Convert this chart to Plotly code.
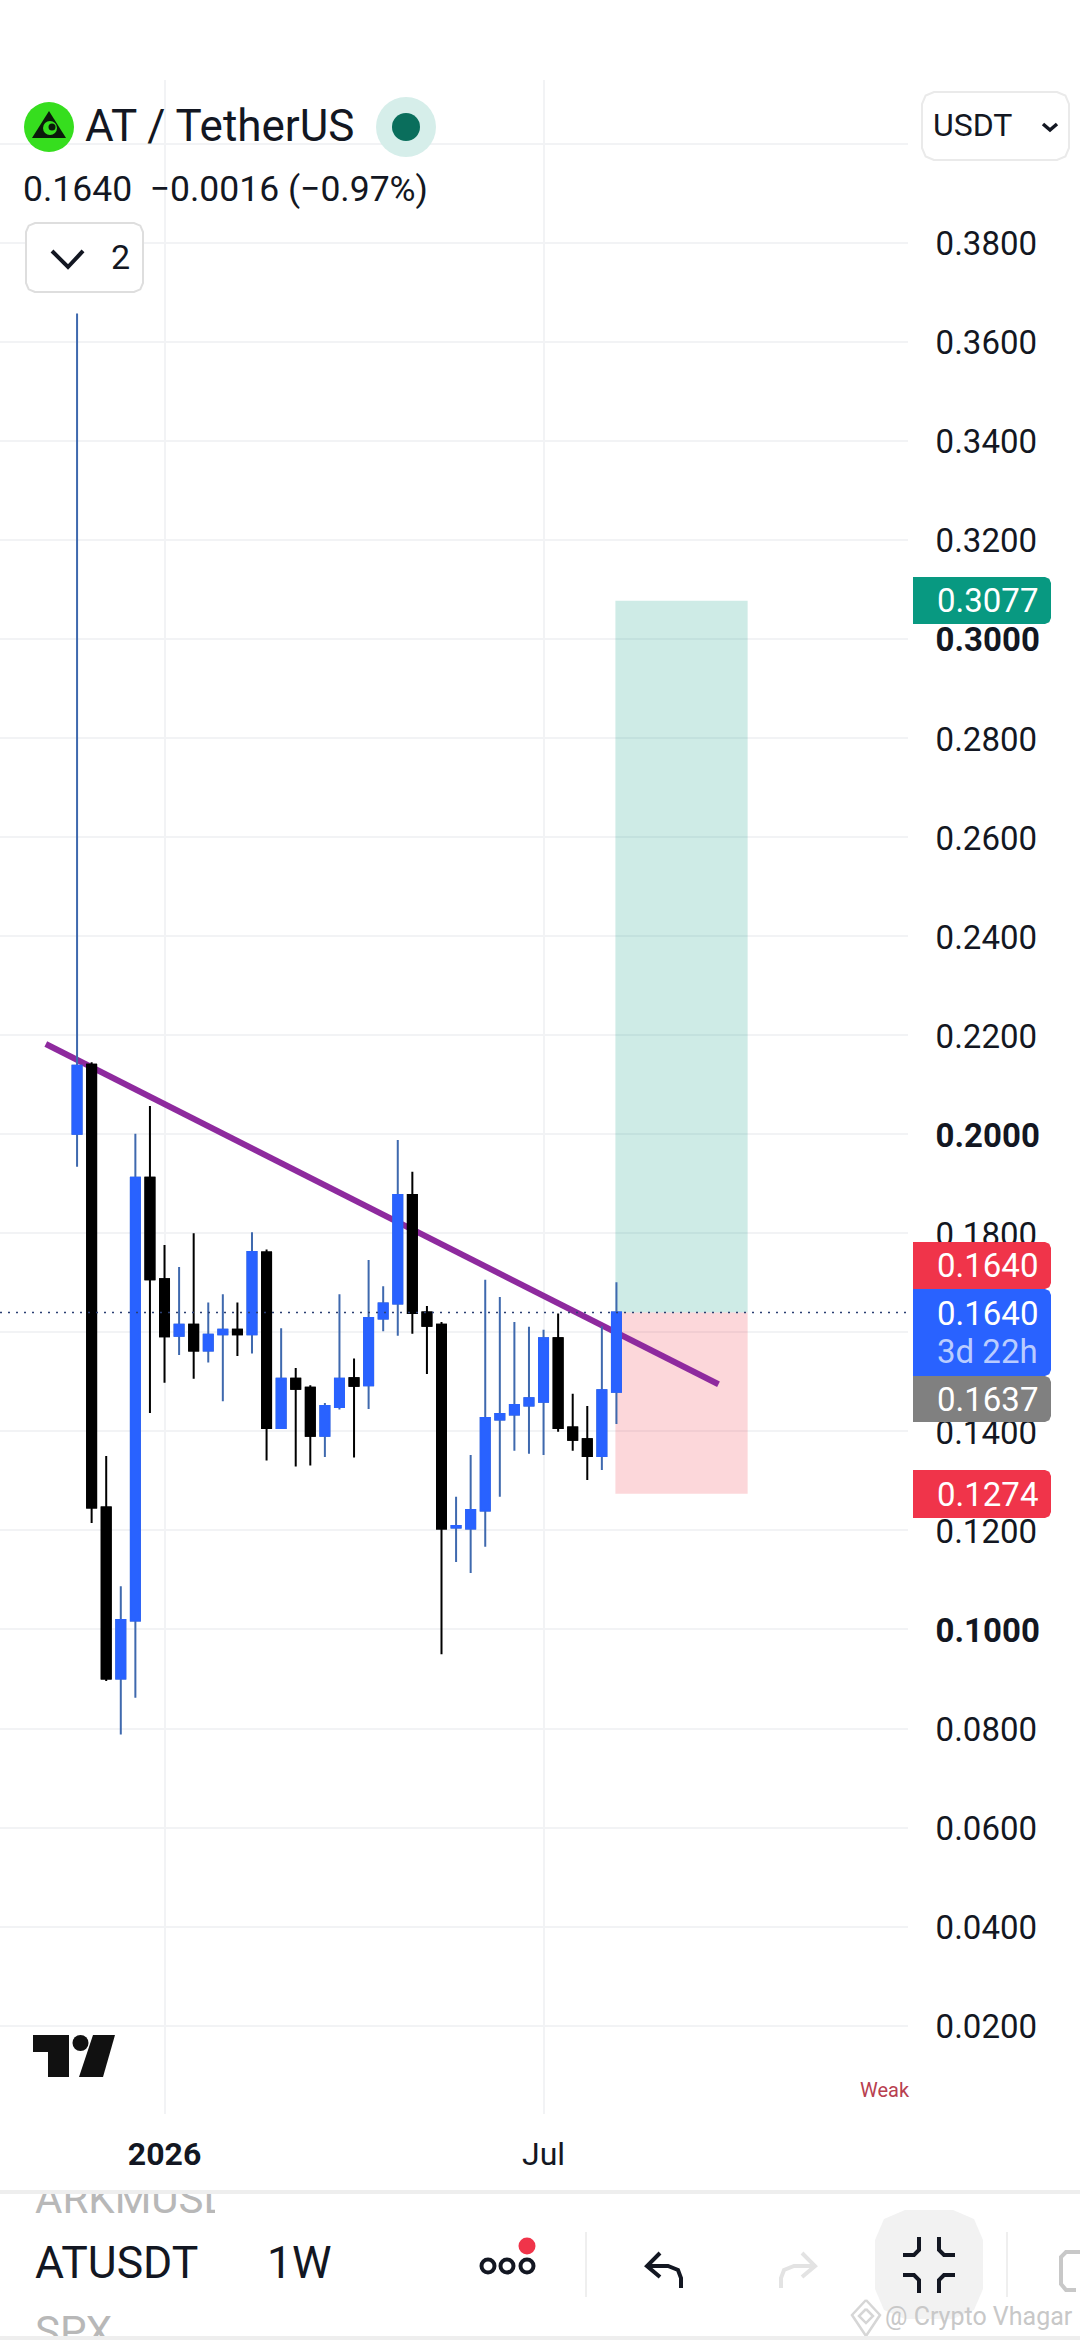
import pandas as pd
import plotly.graph_objects as go

W, H = 1080, 2340
FONT = "Roboto"
INK = "#131722"
BLUE = "#2962FF"
WICK_BLUE = "#3F69AE"
GRID = "#F2F3F5"

# weekly candles, first bar is the week of 24 Nov 2025
weeks = pd.date_range("2025-11-24", periods=38, freq="7D")
opens = [0.2001, 0.2140, 0.1246, 0.0901, 0.1018, 0.1912, 0.1707, 0.1593, 0.1615, 0.1563,
         0.1596, 0.1605, 0.1596, 0.1761, 0.1407, 0.1506, 0.1488, 0.1391, 0.1449, 0.1507,
         0.1493, 0.1628, 0.1658, 0.1877, 0.1640, 0.1615, 0.1206, 0.1204, 0.1240, 0.1424,
         0.1434, 0.1452, 0.1460, 0.1588, 0.1408, 0.1384, 0.1350, 0.1480]
highs = [0.3657, 0.2145, 0.1350, 0.1087, 0.2001, 0.2057, 0.1776, 0.1732, 0.1800, 0.1660,
         0.1677, 0.1660, 0.1802, 0.1767, 0.1608, 0.1528, 0.1493, 0.1457, 0.1677, 0.1547,
         0.1746, 0.1693, 0.1988, 0.1924, 0.1653, 0.1621, 0.1268, 0.1352, 0.1706, 0.1671,
         0.1621, 0.1611, 0.1605, 0.1638, 0.1476, 0.1451, 0.1612, 0.1701]
lows = [0.1934, 0.1215, 0.0896, 0.0788, 0.0862, 0.1437, 0.1498, 0.1554, 0.1506, 0.1539,
        0.1461, 0.1552, 0.1557, 0.1341, 0.1407, 0.1329, 0.1331, 0.1348, 0.1444, 0.1347,
        0.1445, 0.1602, 0.1593, 0.1597, 0.1516, 0.0950, 0.1136, 0.1114, 0.1167, 0.1268,
        0.1361, 0.1355, 0.1352, 0.1399, 0.1361, 0.1302, 0.1322, 0.1415]
closes = [0.2138, 0.1246, 0.0901, 0.1019, 0.1912, 0.1707, 0.1592, 0.1615, 0.1563, 0.1595,
          0.1605, 0.1596, 0.1762, 0.1407, 0.1506, 0.1486, 0.1391, 0.1451, 0.1506, 0.1492,
          0.1629, 0.1658, 0.1877, 0.1639, 0.1613, 0.1204, 0.1209, 0.1241, 0.1427, 0.1435,
          0.1453, 0.1467, 0.1588, 0.1407, 0.1383, 0.1350, 0.1483, 0.1640]

price_ticks = [0.02, 0.04, 0.06, 0.08, 0.10, 0.12, 0.14, 0.16, 0.18, 0.20,
               0.22, 0.24, 0.26, 0.28, 0.30, 0.32, 0.34, 0.36, 0.38, 0.40]
price_labels = ["0.0200", "0.0400", "0.0600", "0.0800", "<b>0.1000</b>", "0.1200", "0.1400",
                "0.1600", "0.1800", "<b>0.2000</b>", "0.2200", "0.2400", "0.2600", "0.2800",
                "<b>0.3000</b>", "0.3200", "0.3400", "0.3600", "0.3800", ""]
date_ticks = ["2026-01-05", "2026-07-06"]
date_labels = ["<b>2026</b>", "Jul"]

last_price = 0.1640
take_profit = 0.3077
stop_loss = 0.1274
box_start, box_end = "2026-08-09 12:00", "2026-10-12"
trend_x = ["2025-11-09", "2026-09-28"]
trend_y = [0.2182, 0.1495]

price_tags = [
    (577, 624, "#089981", "0.3077"),
    (1242, 1289, "#F0344A", "0.1640"),
    (1289, 1376, BLUE, "0.1640"),
    (1376, 1422, "#808080", "0.1637"),
    (1470, 1518, "#F0344A", "0.1274"),
]


def px(x):
    return x / W


def py(y):
    return 1 - y / H


def path(points, close=False):
    s = "M " + " L ".join(f"{px(x):.5f},{py(y):.5f}" for x, y in points)
    return s + (" Z" if close else "")


def stroke(points, color=INK, width=3.5):
    return dict(type="path", xref="paper", yref="paper", path=path(points),
                line=dict(color=color, width=width), layer="above")


def poly(points, color=INK):
    return dict(type="path", xref="paper", yref="paper", path=path(points, True),
                fillcolor=color, line=dict(width=0), layer="above")


def circle(cx, cy, r, fill=None, line=None, width=0):
    return dict(type="circle", xref="paper", yref="paper", x0=px(cx - r), x1=px(cx + r),
                y0=py(cy + r), y1=py(cy - r), fillcolor=fill or "rgba(0,0,0,0)",
                line=dict(color=line or "rgba(0,0,0,0)", width=width), layer="above")


def rrect(x0, y0, x1, y1, r, fill, line=None, width=0, square_left=False):
    # rounded box drawn as a path, corners as small arcs of two segments
    k = r * 0.3
    left = [(x0, y1), (x0, y0)] if square_left else [
        (x0 + r, y1), (x0 + k, y1 - k), (x0, y1 - r), (x0, y0 + r), (x0 + k, y0 + k), (x0 + r, y0)]
    right = [(x1 - r, y0), (x1 - k, y0 + k), (x1, y0 + r), (x1, y1 - r), (x1 - k, y1 - k), (x1 - r, y1)]
    return dict(type="path", xref="paper", yref="paper", path=path(left + right, True),
                fillcolor=fill, line=dict(color=line or "rgba(0,0,0,0)", width=width), layer="above")


def text(x, y, s, size=32, color=INK, anchor="left"):
    return dict(xref="paper", yref="paper", x=px(x), y=py(y), text=s, showarrow=False,
                xanchor=anchor, yanchor="middle", align=anchor, borderpad=0,
                font=dict(family=FONT, size=size, color=color))


def mask(x0, y0, x1, y1, color="white"):
    return dict(xref="paper", yref="paper", x=px(x0), y=py(y0), text=" ", showarrow=False,
                xanchor="left", yanchor="top", width=x1 - x0, height=y1 - y0, bgcolor=color,
                borderpad=0, borderwidth=0, font=dict(size=1))


fig = go.Figure()

# wicks, then bodies on top so wick colour can differ from body colour
fig.add_trace(go.Candlestick(
    x=weeks, open=opens, high=highs, low=lows, close=closes,
    increasing=dict(line=dict(color=WICK_BLUE, width=2), fillcolor=BLUE),
    decreasing=dict(line=dict(color="#000000", width=2), fillcolor="#000000"),
))
fig.add_trace(go.Candlestick(
    x=weeks, open=opens, close=closes,
    high=[max(o, c) for o, c in zip(opens, closes)],
    low=[min(o, c) for o, c in zip(opens, closes)],
    increasing=dict(line=dict(color=BLUE, width=2), fillcolor=BLUE),
    decreasing=dict(line=dict(color="#000000", width=2), fillcolor="#000000"),
    hoverinfo="skip",
))

shapes = [
    # position tool and trend line sit under the candles, over the grid
    dict(type="rect", xref="x", yref="y", x0=box_start, x1=box_end, y0=last_price, y1=take_profit,
         fillcolor="rgba(8,153,129,0.2)", line=dict(width=0), layer="between"),
    dict(type="rect", xref="x", yref="y", x0=box_start, x1=box_end, y0=stop_loss, y1=last_price,
         fillcolor="rgba(242,54,69,0.2)", line=dict(width=0), layer="between"),
    dict(type="line", xref="x", yref="y", x0=trend_x[0], x1=trend_x[1], y0=trend_y[0], y1=trend_y[1],
         line=dict(color="#8E2A9E", width=6), layer="between"),
    dict(type="line", xref="x domain", yref="y", x0=0, x1=1, y0=last_price, y1=last_price,
         line=dict(color="#2B3F72", width=1.5, dash="2px,6px"), layer="above"),
]

# header icons
shapes += [
    circle(49, 127, 25, fill="#36DE1E"),
    poly([(49, 111), (66, 138), (32, 138)], "#0B1A0B"),
    circle(50, 128, 7, fill="#36DE1E"),
    circle(52, 127, 3.5, fill="#0B1A0B"),
    circle(406, 127, 30, fill="#D6EEEA"),
    circle(406, 127, 14, fill="#0A6E5C"),
    rrect(26, 223, 143, 292, 9, "white", "#DEDEDE", 2),
    stroke([(52, 251), (68, 267), (83, 251)], INK, 4),
    rrect(922, 92, 1069, 160, 12, "white", "#EAEAEA", 2),
    stroke([(1043, 124), (1050, 130), (1057, 124)], INK, 3.5),
]

# price tags on the scale
for top, bottom, color, _ in price_tags:
    shapes.append(rrect(913, top, 1051, bottom, 6, color, square_left=True))

# TradingView mark
shapes += [
    poly([(33, 2035), (69, 2035), (69, 2077), (48, 2077), (48, 2052), (33, 2052)], "#111111"),
    circle(80.5, 2043, 8, fill="#111111"),
    poly([(93, 2035), (115, 2035), (103, 2077), (79, 2077)], "#111111"),
]

# bottom toolbar
shapes += [
    stroke([(586, 2232), (586, 2297)], "#EFEFEF", 2),
    stroke([(1007, 2232), (1007, 2297)], "#EFEFEF", 2),
    circle(488, 2266, 6.5, line=INK, width=4),
    circle(507, 2266, 6.5, line=INK, width=4),
    circle(527, 2266, 6.5, line=INK, width=4),
    circle(527, 2246, 10, fill="white"),
    circle(527, 2246, 8.5, fill="#F0344A"),
    stroke([(660, 2253), (647, 2266), (660, 2277)], INK, 4),
    stroke([(648, 2266), (668, 2266), (678, 2270), (681, 2278), (681, 2288)], INK, 4),
    stroke([(802, 2253), (815, 2266), (802, 2277)], "#E3E3E3", 4),
    stroke([(814, 2266), (794, 2266), (784, 2270), (781, 2278), (781, 2288)], "#E3E3E3", 4),
    rrect(875, 2210, 983, 2319, 30, "#F2F2F2"),
    stroke([(903, 2255), (914, 2255), (919, 2250), (919, 2237)], INK, 4),
    stroke([(955, 2255), (944, 2255), (939, 2250), (939, 2237)], INK, 4),
    stroke([(903, 2275), (914, 2275), (919, 2280), (919, 2293)], INK, 4),
    stroke([(955, 2275), (944, 2275), (939, 2280), (939, 2293)], INK, 4),
    stroke([(1080, 2252), (1066, 2252), (1061, 2257), (1061, 2284), (1066, 2290), (1076, 2290)], "#C8C8C8", 4),
    # watermark diamond
    stroke([(866, 2300), (880, 2315), (866, 2336), (852, 2315), (866, 2300)], "#D6D6D6", 2.5),
    stroke([(866, 2309), (873, 2316), (866, 2323), (859, 2316), (866, 2309)], "#D6D6D6", 2.5),
]

annotations = [
    text(84, 126, "AT / TetherUS", 44),
    text(22, 189, "0.1640&nbsp;&nbsp;−0.0016 (−0.97%)", 35.5),
    text(120, 257, "2", 34, anchor="center"),
    text(932, 125, "USDT", 32),
    text(911, 2090, "Weak", 20, "#B8404F", "right"),
    text(34, 2263, "ATUSDT", 44.5),
    text(266, 2263, "1W", 44.5),
    text(34, 2198, "ARKMUSDT", 42, "#B8B8B8"),
    text(34, 2331, "SPX", 42, "#B8B8B8"),
    mask(0, 2172, 300, 2190),
    mask(0, 2190, W, 2194, "#EEEEEE"),
    mask(215, 2194, 420, 2225),
    mask(0, 2336, W, 2340, "#EEEEEE"),
    text(884, 2316, "@ Crypto Vhagar", 25, "#C8C8C8"),
]
for (top, bottom, _, label) in price_tags:
    if label == "0.1640" and top == 1289:
        annotations.append(text(936, 1313, label, 33, "white"))
        annotations.append(text(936, 1352, "3d 22h", 33, "#B9CCFF"))
    else:
        annotations.append(text(936, (top + bottom) / 2, label, 33, "white"))

fig.update_layout(
    width=W,
    height=H,
    margin=dict(l=0, r=0, t=0, b=0),
    paper_bgcolor="white",
    plot_bgcolor="white",
    showlegend=False,
    boxgap=0.12,
    shapes=shapes,
    annotations=annotations,
    font=dict(family=FONT, color=INK),
    xaxis=dict(
        domain=[0, 908 / W],
        range=["2025-10-18", "2026-12-28"],
        rangeslider=dict(visible=False),
        tickvals=date_ticks,
        ticktext=date_labels,
        tickfont=dict(family=FONT, size=32, color=INK),
        ticks="outside",
        ticklen=12,
        tickcolor="white",
        showgrid=True,
        gridcolor=GRID,
        gridwidth=2,
        showline=False,
        zeroline=False,
    ),
    yaxis=dict(
        domain=[1 - 2114 / H, 1 - 80 / H],
        range=[0.00217, 0.41284],
        side="right",
        tickvals=price_ticks,
        ticktext=price_labels,
        tickfont=dict(family=FONT, size=33, color=INK),
        ticks="outside",
        ticklen=20,
        ticklabelshift=1,
        tickcolor="white",
        showgrid=True,
        gridcolor=GRID,
        gridwidth=2,
        showline=False,
        zeroline=False,
    ),
)

fig.write_html("out.html", config=dict(displayModeBar=False),
               post_script="document.body.style.margin='0';")
